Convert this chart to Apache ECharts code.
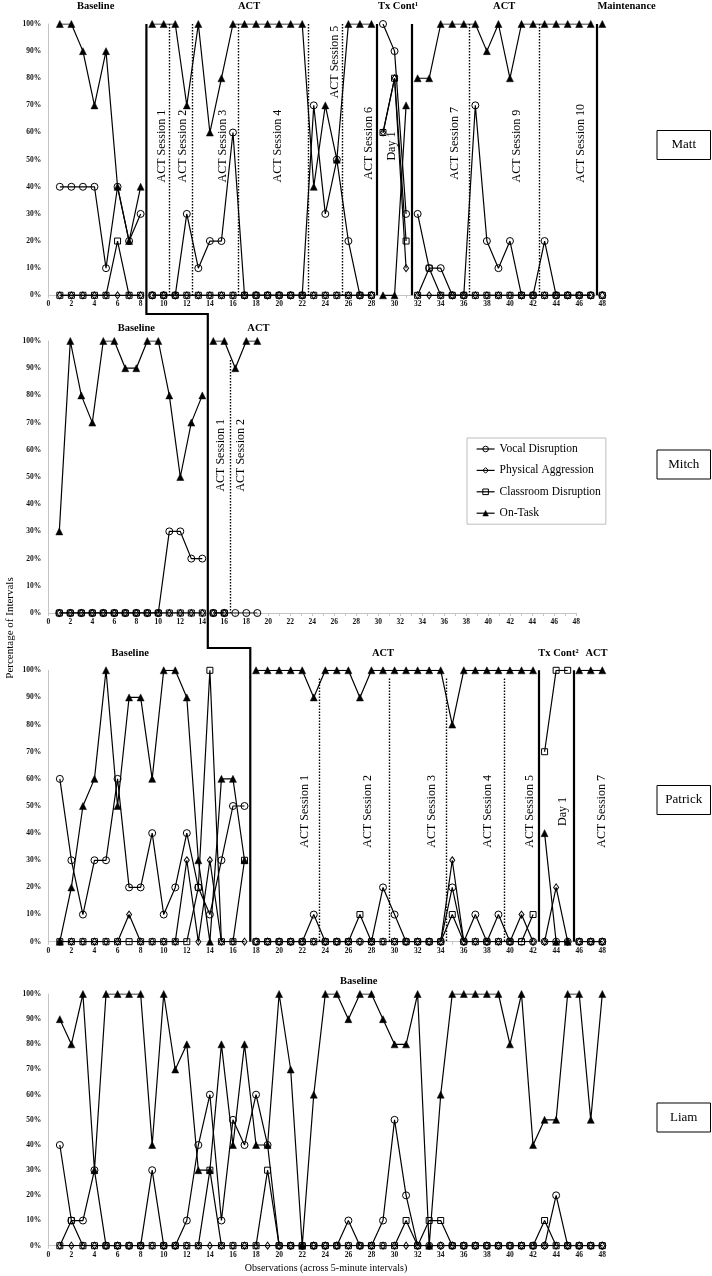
<!DOCTYPE html>
<html>
<head>
<meta charset="utf-8">
<script src="https://cdn.jsdelivr.net/npm/echarts@6/dist/echarts.min.js"></script>
<style>
    html, body {margin: 0; padding: 0; background: #fff}
    #chart {width: 712px; height: 1276px}
</style>
</head>
<body>
<div id="chart"></div>
<script>
// series names (legend order)
var seriesNames = ['Vocal Disruption', 'Physical Aggression', 'Classroom Disruption', 'On-Task']
var studentNames = ['Matt', 'Mitch', 'Patrick', 'Liam']

// Matt, observations 1..48
var mattVocal = [40, 40, 40, 40, 10, 40, 20, 30,
    0, 0, 0, 30, 10, 20, 20, 60, 0, 0, 0, 0, 0, 0, 70, 30, 50, 20, 0, 0,
    100, 90, 30,
    30, 10, 10, 0, 0, 70, 20, 10, 20, 0, 0, 20, 0, 0, 0, 0,
    0]
var mattPhysical = [0, 0, 0, 0, 0, 0, 0, 0,
    0, 0, 0, 0, 0, 0, 0, 0, 0, 0, 0, 0, 0, 0, 0, 0, 0, 0, 0, 0,
    60, 80, 10,
    0, 0, 0, 0, 0, 0, 0, 0, 0, 0, 0, 0, 0, 0, 0, 0,
    0]
var mattClassroom = [0, 0, 0, 0, 0, 20, 0, 0,
    0, 0, 0, 0, 0, 0, 0, 0, 0, 0, 0, 0, 0, 0, 0, 0, 0, 0, 0, 0,
    60, 80, 20,
    0, 10, 0, 0, 0, 0, 0, 0, 0, 0, 0, 0, 0, 0, 0, 0,
    0]
var mattOnTask = [100, 100, 90, 70, 90, 40, 20, 40,
    100, 100, 100, 70, 100, 60, 80, 100, 100, 100, 100, 100, 100, 100, 40, 70, 50, 100, 100, 100,
    0, 0, 70,
    80, 80, 100, 100, 100, 100, 90, 100, 80, 100, 100, 100, 100, 100, 100, 100,
    100]

// Mitch, observations 1..19
var mitchVocal = [0, 0, 0, 0, 0, 0, 0, 0, 0, 0, 30, 30, 20, 20, 0, 0, 0, 0, 0]
var mitchPhysical = [0, 0, 0, 0, 0, 0, 0, 0, 0, 0, 0, 0, 0, 0, 0, 0]
var mitchClassroom = [0, 0, 0, 0, 0, 0, 0, 0, 0, 0, 0, 0, 0, 0, 0, 0]
var mitchOnTask = [30, 100, 80, 70, 100, 100, 90, 90, 100, 100, 80, 50, 70, 80, 100, 100, 90, 100, 100]

// Patrick, observations 1..48
var patrickVocal = [60, 30, 10, 30, 30, 60, 20, 20, 40, 10, 20, 40, 20, 10, 30, 50, 50,
    0, 0, 0, 0, 0, 10, 0, 0, 0, 0, 0, 20, 10, 0, 0, 0, 0, 20, 0, 10, 0, 10, 0, 0, 0,
    0, 0, 0,
    0, 0, 0]
var patrickPhysical = [0, 0, 0, 0, 0, 0, 10, 0, 0, 0, 0, 30, 0, 30, 0, 0, 0,
    0, 0, 0, 0, 0, 0, 0, 0, 0, 0, 0, 0, 0, 0, 0, 0, 0, 30, 0, 0, 0, 0, 0, 10, 0,
    0, 20, 0,
    0, 0, 0]
var patrickClassroom = [0, 0, 0, 0, 0, 0, 0, 0, 0, 0, 0, 0, 20, 100, 0, 0, 30,
    0, 0, 0, 0, 0, 0, 0, 0, 0, 10, 0, 0, 0, 0, 0, 0, 0, 10, 0, 0, 0, 0, 0, 0, 10,
    70, 100, 100,
    0, 0, 0]
var patrickOnTask = [0, 20, 50, 60, 100, 50, 90, 90, 60, 100, 100, 90, 30, 0, 60, 60, 30,
    100, 100, 100, 100, 100, 90, 100, 100, 100, 90, 100, 100, 100, 100, 100, 100, 100, 80, 100, 100, 100, 100, 100, 100, 100,
    40, 0, 0,
    100, 100, 100]

// Liam, observations 1..48 (baseline only)
var liamVocal = [40, 10, 10, 30, 0, 0, 0, 0, 30, 0,
    0, 10, 40, 60, 10, 50, 40, 60, 40, 0,
    0, 0, 0, 0, 0, 10, 0, 0, 10, 50,
    20, 0, 0, 0, 0, 0, 0, 0, 0, 0,
    0, 0, 0, 20, 0, 0, 0, 0]
var liamPhysical = [0, 0, 0, 0, 0, 0, 0, 0, 0, 0,
    0, 0, 0, 0, 0, 0, 0, 0, 0, 0,
    0, 0, 0, 0, 0, 0, 0, 0, 0, 0,
    0, 0, 0, 0, 0, 0, 0, 0, 0, 0,
    0, 0, 0, 0, 0, 0, 0, 0]
var liamClassroom = [0, 10, 0, 0, 0, 0, 0, 0, 0, 0,
    0, 0, 0, 30, 0, 0, 0, 0, 30, 0,
    0, 0, 0, 0, 0, 0, 0, 0, 0, 0,
    10, 0, 10, 10, 0, 0, 0, 0, 0, 0,
    0, 0, 10, 0, 0, 0, 0, 0]
var liamOnTask = [90, 80, 100, 30, 100, 100, 100, 100, 40, 100,
    70, 80, 30, 30, 80, 40, 80, 40, 40, 100,
    70, 0, 60, 100, 100, 90, 100, 100, 90, 80,
    80, 100, 0, 60, 100, 100, 100, 100, 100, 80,
    100, 40, 50, 50, 100, 100, 50, 100]

// phase change lines (observation numbers)
var solidLines = [[8.5, 28.5, 31.5, 47.5], [14.5], [17.5, 42.5, 45.5], []]
var dottedLines = [[10.5, 12.5, 16.5, 22.5, 25.5, 36.5, 42.5], [16.5], [23.5, 29.5, 34.5, 39.5], []]

// phase titles above each panel
var phaseTitles = [
    ['Baseline', 'ACT', 'Tx Cont\u00b9', 'ACT', 'Maintenance'],
    ['Baseline', 'ACT'],
    ['Baseline', 'ACT', 'Tx Cont\u00b2', 'ACT'],
    ['Baseline']
]
// vertical notes inside the panels
var sessionNotes = [
    ['ACT Session 1', 'ACT Session 2', 'ACT Session 3', 'ACT Session 4', 'ACT Session 5', 'ACT Session 6',
        'Day 1', 'ACT Session 7', 'ACT Session 9', 'ACT Session 10'],
    ['ACT Session 1', 'ACT Session 2'],
    ['ACT Session 1', 'ACT Session 2', 'ACT Session 3', 'ACT Session 4', 'ACT Session 5', 'Day 1', 'ACT Session 7'],
    []
]

// ---- layout ----
var FONT = '"Liberation Serif", "Times New Roman", serif'
var grids = [
    {left: 48.3, top: 24, width: 554, height: 271.3},
    {left: 48.3, top: 341, width: 528, height: 272},
    {left: 48.3, top: 670.3, width: 554, height: 271.4},
    {left: 48.3, top: 994, width: 554, height: 251.7}
]
// x position of each phase title, and its height above the grid
var phaseTitleX = [[4.1, 17.4, 30.3, 39.5, 50.1], [8.0, 19.1], [7.1, 29.0, 44.2, 47.5], [26.9]]
var phaseTitleLift = [18, 12.7, 17, 12.3]
// [x, y%] centre of each vertical note
var sessionNoteXY = [
    [[9.85, 55], [11.7, 55], [15.1, 55], [19.9, 55], [24.8, 86], [27.8, 56], [29.8, 55], [35.2, 56], [40.6, 55], [46.1, 56]],
    [[15.7, 58], [17.5, 58]],
    [[22.2, 48], [27.7, 48], [33.2, 48], [38.1, 48], [41.7, 48], [44.6, 48], [48.0, 48]],
    []
]
var dottedTop = [100, 93, 97, 100]
var nameBoxY = [145, 464.5, 800, 1117.5]
var stepY = [314, 648]

var panelData = [
    [mattVocal, mattPhysical, mattClassroom, mattOnTask],
    [mitchVocal, mitchPhysical, mitchClassroom, mitchOnTask],
    [patrickVocal, patrickPhysical, patrickClassroom, patrickOnTask],
    [liamVocal, liamPhysical, liamClassroom, liamOnTask]
]

var hollow = {color: 'rgba(0,0,0,0)', borderColor: '#000', borderWidth: 1}
var symbols = [
    {symbol: 'circle', symbolSize: 7, itemStyle: hollow},
    {symbol: 'diamond', symbolSize: [5, 7], itemStyle: hollow},
    {symbol: 'rect', symbolSize: 6, itemStyle: hollow},
    {symbol: 'triangle', symbolSize: 7, itemStyle: {color: '#000', borderColor: '#000', borderWidth: 0.5}}
]

//把数组变成 [x, y] 点，实线处断开
function toPoints(values, breaks) {
    var pts = []
    for (var i = 0; i < values.length; i++) {
        var x = i + 1
        if (values[i] == null) continue
        for (var b = 0; b < breaks.length; b++) {
            if (i > 0 && breaks[b] > x - 1 && breaks[b] < x) pts.push([breaks[b], '-'])
        }
        pts.push([x, values[i]])
    }
    return pts
}

var xAxes = [], yAxes = [], series = []
for (var p = 0; p < 4; p++) {
    xAxes.push({
        type: 'value', gridIndex: p, min: 0, max: 48, interval: 1,
        axisLine: {lineStyle: {color: '#c4c4c4', width: 1}},
        axisTick: {show: true, length: 3, lineStyle: {color: '#c4c4c4'}},
        splitLine: {show: false},
        axisLabel: {
            fontFamily: FONT, fontSize: 7.5, fontWeight: 'bold', color: '#111', margin: 5,
            formatter: function (v) { return v % 2 ? '' : v }
        }
    })
    yAxes.push({
        type: 'value', gridIndex: p, min: 0, max: 100, interval: 10,
        axisLine: {show: true, lineStyle: {color: '#c4c4c4', width: 1}},
        axisTick: {show: false},
        splitLine: {show: false},
        axisLabel: {fontFamily: FONT, fontSize: 7.5, fontWeight: 'bold', color: '#111', margin: 7, formatter: '{value}%'}
    })
    for (var s = 0; s < 4; s++) {
        var item = {
            name: seriesNames[s], type: 'line', xAxisIndex: p, yAxisIndex: p,
            data: toPoints(panelData[p][s], solidLines[p]),
            symbol: symbols[s].symbol, symbolSize: symbols[s].symbolSize,
            itemStyle: symbols[s].itemStyle,
            lineStyle: {color: '#000', width: 1.2},
            connectNulls: false, showAllSymbol: true, silent: true,
            emphasis: {disabled: true}, z: 3 + s
        }
        if (s == 3) {
            var lines = []
            solidLines[p].forEach(function (x, k) {
                //第一条实线由阶梯线画
                if (k == 0 && p < 3) return
                lines.push([{coord: [x, 100], lineStyle: {type: 'solid', width: 2.2, color: '#000'}}, {coord: [x, 0]}])
            })
            dottedLines[p].forEach(function (x) {
                lines.push([{coord: [x, dottedTop[p]], lineStyle: {type: [1.5, 1.5], width: 1.4, color: '#000'}}, {coord: [x, 0]}])
            })
            item.markLine = {symbol: 'none', silent: true, label: {show: false}, animation: false, data: lines}
        }
        series.push(item)
    }
}

var legendData = seriesNames.map(function (n, i) {
    return {name: n, itemStyle: symbols[i].itemStyle, lineStyle: {color: '#000', width: 1.2}}
})

var chart = echarts.init(document.getElementById('chart'), null, {renderer: 'canvas'})
chart.setOption({
    animation: false,
    backgroundColor: '#fff',
    grid: grids,
    xAxis: xAxes,
    yAxis: yAxes,
    legend: {
        orient: 'vertical', left: 467, top: 438,
        data: legendData,
        itemWidth: 18, itemHeight: 7, itemGap: 9.4,
        padding: [5, 5, 5, 9],
        borderColor: '#bdbdbd', borderWidth: 1,
        selectedMode: false,
        textStyle: {fontFamily: FONT, fontSize: 11.5, color: '#000'}
    },
    series: series
})

//标注、姓名框、阶梯线
var graphics = []
function px(p, x, y) { return chart.convertToPixel({gridIndex: p}, [x, y]) }

for (var p = 0; p < 4; p++) {
    phaseTitles[p].forEach(function (t, k) {
        var pt = px(p, phaseTitleX[p][k], 100)
        graphics.push({
            type: 'text', x: pt[0], y: pt[1] - phaseTitleLift[p], silent: true,
            style: {text: t, font: 'bold 10.5px ' + FONT, fill: '#000', align: 'center', verticalAlign: 'middle'}
        })
    })
    sessionNotes[p].forEach(function (t, k) {
        var pt = px(p, sessionNoteXY[p][k][0], sessionNoteXY[p][k][1])
        graphics.push({
            type: 'text', x: pt[0], y: pt[1], rotation: Math.PI / 2, silent: true,
            style: {text: t, font: '12px ' + FONT, fill: '#000', align: 'center', verticalAlign: 'middle'}
        })
    })
    graphics.push({
        type: 'group', x: 657, y: nameBoxY[p] - 14.5, silent: true,
        children: [
            {type: 'rect', shape: {x: 0, y: 0, width: 53.5, height: 29}, style: {fill: '#fff', stroke: '#000', lineWidth: 1}},
            {type: 'text', x: 26.75, y: 14.5, style: {text: studentNames[p], font: '13px ' + FONT, fill: '#000', align: 'center', verticalAlign: 'middle'}}
        ]
    })
}

var a = px(0, solidLines[0][0], 100)
var b = px(1, solidLines[1][0], 0)
var c = px(2, solidLines[2][0], 0)
graphics.push({
    type: 'polyline', silent: true, z: 10,
    shape: {points: [a, [a[0], stepY[0]], [b[0], stepY[0]], b, [b[0], stepY[1]], [c[0], stepY[1]], c]},
    style: {stroke: '#000', lineWidth: 2.2, fill: null}
})

graphics.push({
    type: 'text', x: 10, y: 628, rotation: Math.PI / 2, silent: true,
    style: {text: 'Percentage of Intervals', font: '11px ' + FONT, fill: '#000', align: 'center', verticalAlign: 'middle'}
})
graphics.push({
    type: 'text', x: 326, y: 1268, silent: true,
    style: {text: 'Observations (across 5-minute intervals)', font: '10px ' + FONT, fill: '#000', align: 'center', verticalAlign: 'middle'}
})

chart.setOption({graphic: graphics})
</script>
</body>
</html>
